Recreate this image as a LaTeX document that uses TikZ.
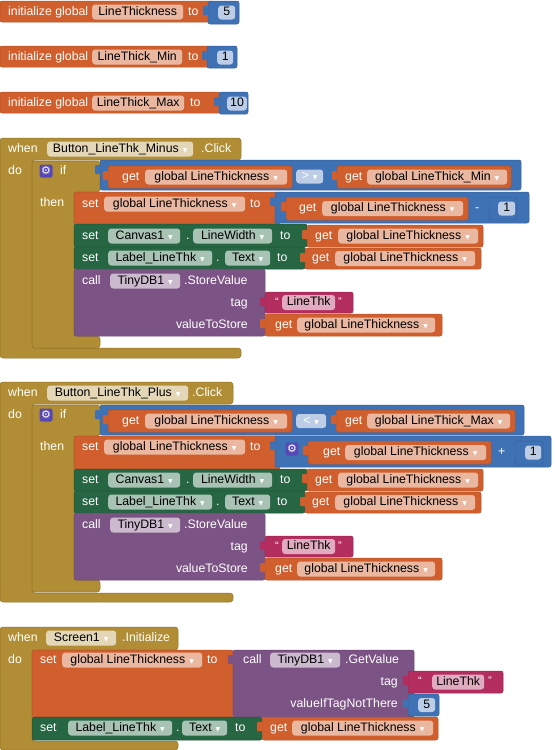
\documentclass[tikz,border=0pt]{standalone}
\usepackage{fontspec}
\setmainfont{Liberation Sans}
\newfontfamily\ddfont{DejaVu Sans}
\usepackage{tikz}
\usetikzlibrary{positioning}
\definecolor{aievent}{RGB}{177,142,53}
\definecolor{aivar}{RGB}{208,95,45}
\definecolor{aimath}{RGB}{63,113,181}
\definecolor{aicomp}{RGB}{38,102,67}
\definecolor{aiproc}{RGB}{124,83,133}
\definecolor{aitext}{RGB}{179,45,94}
\definecolor{aigear}{RGB}{88,72,180}
\newcommand{\blkfont}{\fontsize{12.3}{14}\selectfont}
\newcommand{\dd}{\hspace{4pt}{\ddfont\fontsize{6}{6}\selectfont\textcolor{white}{▼}}}
% value block with its puzzle tab on the left
\newcommand{\vblock}[5]{\path[#1] (#2,#3) rectangle (#4,#5);
  \fill[#1, draw=none, rounded corners=1pt] ({#2-5},{#3+5}) rectangle ({#2+0.6},{#3+14});}

\begin{document}
\begin{tikzpicture}[x=1pt, y=-1pt,
    every node/.style={font=\blkfont, inner sep=0pt, text height=8.8pt, text depth=2.6pt},
    lbl/.style={text=white, anchor=west},
    rlbl/.style={text=white, anchor=east},
    fld/.style={rounded corners=3pt, minimum height=15pt, inner xsep=3pt, text=black, anchor=west},
    fev/.style={fld, fill=aievent!35!white},
    fvar/.style={fld, fill=aivar!45!white},
    fmath/.style={fld, fill=aimath!35!white, minimum height=14pt},
    fcomp/.style={fld, fill=aicomp!40!white},
    fproc/.style={fld, fill=aiproc!40!white},
    ftext/.style={fld, fill=aitext!40!white},
    quot/.style={text=white, font=\fontsize{11}{11}\selectfont},
    gear/.style={fill=aigear, rounded corners=2pt, minimum size=13pt, text=white, text height=, text depth=, font=\ddfont\fontsize{11}{11}\selectfont},
    evblk/.style={fill=aievent, draw=aievent!80!black, line width=0.5pt, rounded corners=3pt},
    varblk/.style={fill=aivar, draw=aivar!85!black, line width=0.5pt, rounded corners=2pt},
    mathblk/.style={fill=aimath, draw=aimath!85!black, line width=0.5pt, rounded corners=2pt},
    compblk/.style={fill=aicomp, draw=aicomp!85!black, line width=0.5pt, rounded corners=2pt},
    procblk/.style={fill=aiproc, draw=aiproc!85!black, line width=0.5pt, rounded corners=2pt},
    textblk/.style={fill=aitext, draw=aitext!85!black, line width=0.5pt, rounded corners=2pt}]
    \useasboundingbox (0,0) rectangle (556,750);

    % global variables
    \path[varblk] (0,1) rectangle (213,22);
    \node[lbl] (ini1) at (8,12) {initialize global};
    \node[fvar, minimum width=91pt] (ini1n) at (92,12) {LineThickness};
    \node[lbl] (ini1to) at (188,12) {to};
    \vblock{mathblk}{208}{1}{239}{24}
    \node[fmath, minimum width=17pt] (ini1v) at (218,12.5) {5};

    \path[varblk] (0,46) rectangle (211,67);
    \node[lbl] (ini2) at (8,57) {initialize global};
    \node[fvar, minimum width=90pt] (ini2n) at (92,57) {LineThick\_Min};
    \node[lbl] (ini2to) at (188,57) {to};
    \vblock{mathblk}{207}{46}{237}{68}
    \node[fmath, minimum width=16pt] (ini2v) at (217,57.5) {1};

    \path[varblk] (0,92) rectangle (220,113);
    \node[lbl] (ini3) at (8,103) {initialize global};
    \node[fvar, minimum width=92pt] (ini3n) at (92,103) {LineThick\_Max};
    \node[lbl] (ini3to) at (190,103) {to};
    \vblock{mathblk}{219}{92}{248}{114}
    \node[fmath, minimum width=18pt] (ini3v) at (227,103.5) {10};

    % when Button_LineThk_Minus.Click
    \path[evblk] (0,138) -- (241,138) -- (241,160) -- (32,160) -- (32,348) -- (241,348) -- (241,358) -- (0,358) -- cycle;
    \node[lbl] (mwhen) at (8,149) {when};
    \node[fev, minimum width=146pt] (mbtn) at (47,149) {Button\_LineThk\_Minus\dd};
    \node[lbl] (mclick) at (201,149) {.Click};
    \node[lbl] (mdo) at (8,171) {do};
    \path[evblk] (32,161) -- (100,161) -- (100,192) -- (74,192) -- (74,336) -- (100,336) -- (100,348) -- (32,348) -- cycle;
    \node[gear] (mgear) at (46,171) {⚙};
    \node[lbl] (mif) at (60,171) {if};
    \node[lbl] (mthen) at (40,203) {then};
    \vblock{mathblk}{100}{160}{521}{190}
    \vblock{varblk}{108}{166}{292}{188}
    \node[lbl] (mcget1) at (122,177) {get};
    \node[fvar, minimum width=142pt] (mcvar1) at (145,177) {global LineThickness\dd};
    \node[fmath, minimum width=27pt, text=white] (mcop) at (296,176.5) {>\dd};
    \vblock{varblk}{337}{166}{511}{188}
    \node[lbl] (mcget2) at (345,177) {get};
    \node[fvar, minimum width=140pt] (mcvar2) at (367,177) {global LineThick\_Min\dd};
    \path[varblk] (74,192) rectangle (280,224);
    \node[lbl] (mset) at (82,204) {set};
    \node[fvar, minimum width=141pt] (msetvar) at (104,204) {global LineThickness\dd};
    \node[lbl] (msetto) at (250,204) {to};
    \vblock{mathblk}{275}{192}{529}{223}
    \vblock{varblk}{286}{197}{468}{220}
    \node[lbl] (msget) at (299,208.5) {get};
    \node[fvar, minimum width=141pt] (msvar) at (322,208.5) {global LineThickness\dd};
    \node[lbl] (mminus) at (475,208.5) {-};
    \vblock{mathblk}{489}{197}{517}{220}
    \node[fmath, minimum width=17pt] (mone) at (498,208.5) {1};
    \path[compblk] (74,224) rectangle (307,247);
    \node[lbl] (mcset) at (82,236) {set};
    \node[fcomp, minimum width=72pt] (mcanvas) at (108,236) {Canvas1\dd};
    \node[lbl] (mcdot) at (186,236) {.};
    \node[fcomp, minimum width=79pt] (mcwidth) at (193,236) {LineWidth\dd};
    \node[lbl] (mcto) at (280,236) {to};
    \vblock{varblk}{307}{225}{483}{247}
    \node[lbl] (mcget) at (315,236) {get};
    \node[fvar, minimum width=140pt] (mcvar) at (338,236) {global LineThickness\dd};
    \path[compblk] (74,247) rectangle (305,269);
    \node[lbl] (mlset) at (82,258) {set};
    \node[fcomp, minimum width=104pt] (mlabel) at (108,258) {Label\_LineThk\dd};
    \node[lbl] (mldot) at (216,258) {.};
    \node[fcomp, minimum width=45pt] (mltext) at (225,258) {Text\dd};
    \node[lbl] (mlto) at (277,258) {to};
    \vblock{varblk}{305}{248}{481}{269}
    \node[lbl] (mlget) at (312,258.5) {get};
    \node[fvar, minimum width=140pt] (mlvar) at (335,258.5) {global LineThickness\dd};
    \path[procblk] (74,269) rectangle (265,336);
    \node[lbl] (mcall) at (82,281) {call};
    \node[fproc, minimum width=70pt] (mdb) at (110,281) {TinyDB1\dd};
    \node[lbl] (mstore) at (184,281) {.StoreValue};
    \node[rlbl] (mtag) at (248,303) {tag};
    \node[rlbl] (mvts) at (248,325) {valueToStore};
    \vblock{textblk}{265}{292}{353}{313}
    \node[quot] (mq1) at (277,302) {“};
    \node[ftext, minimum width=53pt] (mstr) at (282,302.5) {LineThk};
    \node[quot] (mq2) at (340,302) {”};
    \vblock{varblk}{265}{314}{442}{336}
    \node[lbl] (mvget) at (275,325) {get};
    \node[fvar, minimum width=138pt] (mvvar) at (297,325) {global LineThickness\dd};

    % when Button_LineThk_Plus.Click
    \path[evblk] (0,382) -- (233,382) -- (233,404) -- (32,404) -- (32,593) -- (233,593) -- (233,602) -- (0,602) -- cycle;
    \node[lbl] (pwhen) at (8,393) {when};
    \node[fev, minimum width=141pt] (pbtn) at (47,393) {Button\_LineThk\_Plus\dd};
    \node[lbl] (pclick) at (192,393) {.Click};
    \node[lbl] (pdo) at (8,415) {do};
    \path[evblk] (32,405) -- (100,405) -- (100,436) -- (74,436) -- (74,580) -- (100,580) -- (100,592) -- (32,592) -- cycle;
    \node[gear] (pgear) at (46,415) {⚙};
    \node[lbl] (pif) at (60,415) {if};
    \node[lbl] (pthen) at (40,447) {then};
    \vblock{mathblk}{100}{405}{524}{435}
    \vblock{varblk}{108}{410}{292}{432}
    \node[lbl] (pcget1) at (122,421) {get};
    \node[fvar, minimum width=142pt] (pcvar1) at (145,421) {global LineThickness\dd};
    \node[fmath, minimum width=30pt, text=white] (pcop) at (296,421) {<\dd};
    \vblock{varblk}{336}{410}{515}{432}
    \node[lbl] (pcget2) at (345,421) {get};
    \node[fvar, minimum width=143pt] (pcvar2) at (367,421) {global LineThick\_Max\dd};
    \path[varblk] (74,436) rectangle (280,469);
    \node[lbl] (pset) at (82,447) {set};
    \node[fvar, minimum width=141pt] (psetvar) at (104,447) {global LineThickness\dd};
    \node[lbl] (psetto) at (250,447) {to};
    \vblock{mathblk}{275}{436}{551}{467}
    \node[gear] (pagear) at (292,449) {⚙};
    \vblock{varblk}{308}{441}{491}{464}
    \node[lbl] (psget) at (323,452.5) {get};
    \node[fvar, minimum width=141pt] (psvar) at (345,452.5) {global LineThickness\dd};
    \node[lbl] (pplus) at (498,452) {+};
    \vblock{mathblk}{515}{441}{543}{464}
    \node[fmath, minimum width=16pt] (pone) at (525,452.5) {1};
    \path[compblk] (74,469) rectangle (307,491);
    \node[lbl] (pcset) at (82,480) {set};
    \node[fcomp, minimum width=72pt] (pcanvas) at (108,480) {Canvas1\dd};
    \node[lbl] (pcdot) at (186,480) {.};
    \node[fcomp, minimum width=79pt] (pcwidth) at (193,480) {LineWidth\dd};
    \node[lbl] (pcto) at (280,480) {to};
    \vblock{varblk}{307}{469}{483}{491}
    \node[lbl] (pcget) at (315,480) {get};
    \node[fvar, minimum width=140pt] (pcvar) at (338,480) {global LineThickness\dd};
    \path[compblk] (74,491) rectangle (305,513);
    \node[lbl] (plset) at (82,502) {set};
    \node[fcomp, minimum width=104pt] (plabel) at (108,502) {Label\_LineThk\dd};
    \node[lbl] (pldot) at (216,502) {.};
    \node[fcomp, minimum width=45pt] (pltext) at (225,502) {Text\dd};
    \node[lbl] (plto) at (277,502) {to};
    \vblock{varblk}{305}{492}{481}{513}
    \node[lbl] (plget) at (312,502.5) {get};
    \node[fvar, minimum width=140pt] (plvar) at (335,502.5) {global LineThickness\dd};
    \path[procblk] (74,513) rectangle (265,580);
    \node[lbl] (pcall) at (82,525) {call};
    \node[fproc, minimum width=70pt] (pdb) at (110,525) {TinyDB1\dd};
    \node[lbl] (pstore) at (184,525) {.StoreValue};
    \node[rlbl] (ptag) at (248,547) {tag};
    \node[rlbl] (pvts) at (248,569) {valueToStore};
    \vblock{textblk}{265}{536}{353}{557}
    \node[quot] (pq1) at (277,546) {“};
    \node[ftext, minimum width=53pt] (pstr) at (282,546.5) {LineThk};
    \node[quot] (pq2) at (340,546) {”};
    \vblock{varblk}{265}{558}{442}{580}
    \node[lbl] (pvget) at (275,569) {get};
    \node[fvar, minimum width=138pt] (pvvar) at (297,569) {global LineThickness\dd};

    % when Screen1.Initialize
    \path[evblk] (0,627) -- (178,627) -- (178,650) -- (32,650) -- (32,741) -- (178,741) -- (178,750) -- (0,750) -- cycle;
    \node[lbl] (swhen) at (8,638) {when};
    \node[fev, minimum width=70pt] (sscr) at (46,638) {Screen1\dd};
    \node[lbl] (sinit) at (122,638) {.Initialize};
    \node[lbl] (sdo) at (8,660) {do};
    \path[varblk] (32,650) rectangle (233,717);
    \node[lbl] (sset) at (40,660) {set};
    \node[fvar, minimum width=140pt] (ssetvar) at (62,660) {global LineThickness\dd};
    \node[lbl] (ssetto) at (207,660) {to};
    \vblock{procblk}{233}{650}{414}{717}
    \node[lbl] (scall) at (243,660) {call};
    \node[fproc, minimum width=70pt] (sdb) at (270,660) {TinyDB1\dd};
    \node[lbl] (sget) at (345,660) {.GetValue};
    \node[rlbl] (stag) at (398,682) {tag};
    \node[rlbl] (svnt) at (398,704) {valueIfTagNotThere};
    \vblock{textblk}{408}{671}{503}{693}
    \node[quot] (sq1) at (420,681) {“};
    \node[ftext, minimum width=52pt] (sstr) at (432,682) {LineThk};
    \node[quot] (sq2) at (490,681) {”};
    \vblock{mathblk}{408}{694}{439}{716}
    \node[fmath, minimum width=17pt] (sfive) at (418,705) {5};
    \path[compblk] (32,717) rectangle (262,740);
    \node[lbl] (slset) at (40,728) {set};
    \node[fcomp, minimum width=104pt] (slabel) at (68,728) {Label\_LineThk\dd};
    \node[lbl] (sldot) at (176,728) {.};
    \node[fcomp, minimum width=45pt] (sltext) at (182,728) {Text\dd};
    \node[lbl] (slto) at (235,728) {to};
    \vblock{varblk}{262}{717}{438}{740}
    \node[lbl] (slget) at (270,728) {get};
    \node[fvar, minimum width=141pt] (slvar) at (292,728) {global LineThickness\dd};
\end{tikzpicture}
\end{document}
